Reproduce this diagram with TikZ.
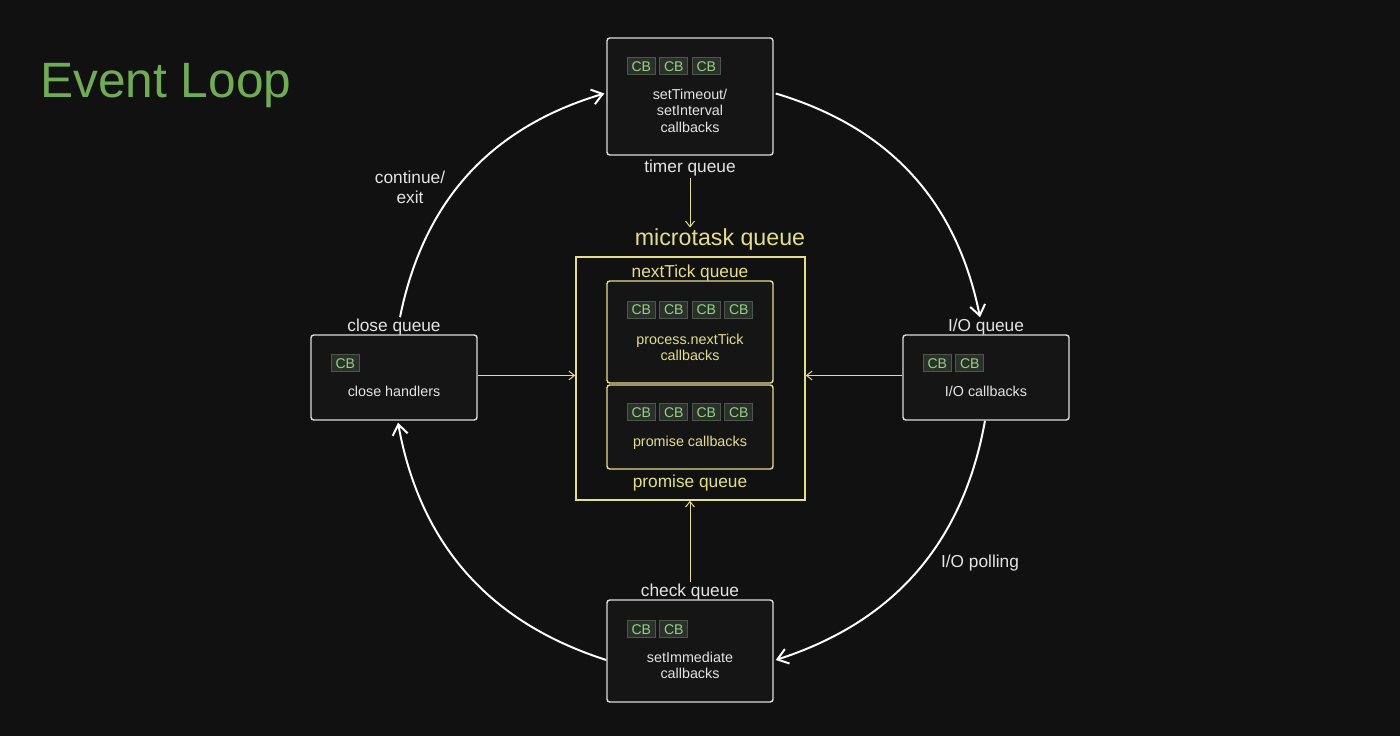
\documentclass[tikz,border=0pt]{standalone}
\usepackage{fontspec}
\setmainfont{Liberation Sans}
\usetikzlibrary{arrows.meta, positioning, calc}

\definecolor{bgdark}{RGB}{17,17,17}
\definecolor{boxfill}{RGB}{21,21,21}
\definecolor{boxline}{RGB}{220,220,220}
\definecolor{txtgray}{RGB}{228,228,228}
\definecolor{mtyellow}{RGB}{228,222,140}
\definecolor{titlegreen}{RGB}{112,172,84}
\definecolor{cbfill}{RGB}{42,48,42}
\definecolor{cbline}{RGB}{78,84,78}
\definecolor{cbgreen}{RGB}{150,210,130}

\begin{document}
\begin{tikzpicture}[x=0.025cm, y=0.025cm,
    queuebox/.style={draw=boxline, fill=boxfill, rounded corners=2pt, line width=1pt,
        minimum width=4.15cm, inner sep=0pt},
    tickbox/.style={queuebox, draw=mtyellow},
    cb/.style={draw=cbline, fill=cbfill, text=cbgreen, line width=0.6pt,
        minimum width=0.7cm, minimum height=0.43cm, inner sep=0pt,
        font=\fontsize{10}{12}\selectfont},
    boxtext/.style={text=txtgray, align=center, inner sep=0pt, anchor=north,
        font=\fontsize{10.2}{11.4}\selectfont},
    qlabel/.style={text=txtgray, align=center, inner sep=1pt,
        font=\fontsize{12.3}{14}\selectfont},
    looparrow/.style={draw=white, line width=1.4pt, -{Straight Barb[length=2.6mm, width=3.8mm]}},
    feedarrow/.style={draw=mtyellow, line width=0.7pt, -{Straight Barb[length=1.4mm, width=2.2mm]}}]

    % Background
    \fill[bgdark] (0,0) rectangle (1400,736);
    \useasboundingbox (0,0) rectangle (1400,736);

    % Title
    \node[anchor=west, text=titlegreen, inner sep=0pt, font=\fontsize{35.3}{40}\selectfont]
        (title) at (40,650) {Event Loop};

    % Timer queue
    \node[queuebox, minimum height=2.925cm] (timer) at (690,639.5) {};
    \foreach \i in {1,...,3}
        \node[cb] (timer-cb\i) at ($(timer.north west)+(35+32.5*\i-32.5,-29)$) {CB};
    \node[boxtext] (timer-txt) at ($(timer.north)+(0,-52)$) {setTimeout/\\setInterval\\callbacks};
    \node[qlabel] (timer-lbl) at (690,568) {timer queue};

    % Microtask queue
    \node[text=mtyellow, inner sep=1pt, font=\fontsize{16.5}{19}\selectfont] (micro-lbl) at (720,496) {microtask queue};
    \node[draw=mtyellow, line width=1pt, minimum width=5.725cm, minimum height=6.075cm] (micro) at (690.5,357.5) {};
    \node[qlabel, text=mtyellow] (tick-lbl) at (690,463) {nextTick queue};
    \node[tickbox, minimum height=2.55cm] (tick) at (690,404) {};
    \foreach \i in {1,...,4}
        \node[cb] (tick-cb\i) at ($(tick.north west)+(35+32.5*\i-32.5,-29.5)$) {CB};
    \node[boxtext, text=mtyellow] (tick-txt) at ($(tick.north)+(0,-54)$) {process.nextTick\\callbacks};
    \node[tickbox, minimum height=2.1cm] (promise) at (690,309) {};
    \foreach \i in {1,...,4}
        \node[cb] (promise-cb\i) at ($(promise.north west)+(35+32.5*\i-32.5,-28)$) {CB};
    \node[boxtext, text=mtyellow] (promise-txt) at ($(promise.north)+(0,-52)$) {promise callbacks};
    \node[qlabel, text=mtyellow] (promise-lbl) at (690,253) {promise queue};

    % Close queue
    \node[queuebox, minimum height=2.125cm] (close) at (394,358.5) {};
    \node[cb] (close-cb1) at ($(close.north west)+(35,-29)$) {CB};
    \node[boxtext] (close-txt) at ($(close.north)+(0,-52)$) {close handlers};
    \node[qlabel] (close-lbl) at (394,409) {close queue};

    % I/O queue
    \node[queuebox, minimum height=2.125cm] (io) at (986,358.5) {};
    \foreach \i in {1,2}
        \node[cb] (io-cb\i) at ($(io.north west)+(35+32.5*\i-32.5,-29)$) {CB};
    \node[boxtext] (io-txt) at ($(io.north)+(0,-52)$) {I/O callbacks};
    \node[qlabel] (io-lbl) at (986,409) {I/O queue};

    % Check queue
    \node[queuebox, minimum height=2.55cm] (check) at (690,85) {};
    \foreach \i in {1,2}
        \node[cb] (check-cb\i) at ($(check.north west)+(35+32.5*\i-32.5,-30)$) {CB};
    \node[boxtext] (check-txt) at ($(check.north)+(0,-53)$) {setImmediate\\callbacks};
    \node[qlabel] (check-lbl) at (690,144) {check queue};

    % Loop labels
    \node[qlabel, font=\fontsize{12.3}{14.2}\selectfont] (exit-lbl) at (410,549) {continue/\\exit};
    \node[qlabel] (poll-lbl) at (980,173) {I/O polling};

    % Event loop
    \draw[looparrow] ($(close-lbl.north)+(6,0)$) to[bend left=31] ($(timer.west)+(-2,3)$);
    \draw[looparrow] ($(timer.east)+(2,3)$) to[bend left=31] ($(io-lbl.north)+(-6,0)$);
    \draw[looparrow] ($(io.south)+(-1,0)$) to[bend left=31] ($(check.east)+(2,-9)$);
    \draw[looparrow] ($(check.west)+(0,-9)$) to[bend left=31] ($(close.south)+(4,-2)$);

    % Into the microtask queue
    \coordinate (close-out) at ($(close.east)+(0,2)$);
    \coordinate (io-out) at ($(io.west)+(0,2)$);
    \draw[feedarrow] (timer-lbl.south) -- (micro-lbl.north -| timer-lbl.south);
    \draw[feedarrow] (close-out) -- (close-out -| micro.west);
    \draw[feedarrow] (io-out) -- (io-out -| micro.east);
    \draw[feedarrow] (check-lbl.north) -- (micro.south -| check-lbl.north);
\end{tikzpicture}
\end{document}
